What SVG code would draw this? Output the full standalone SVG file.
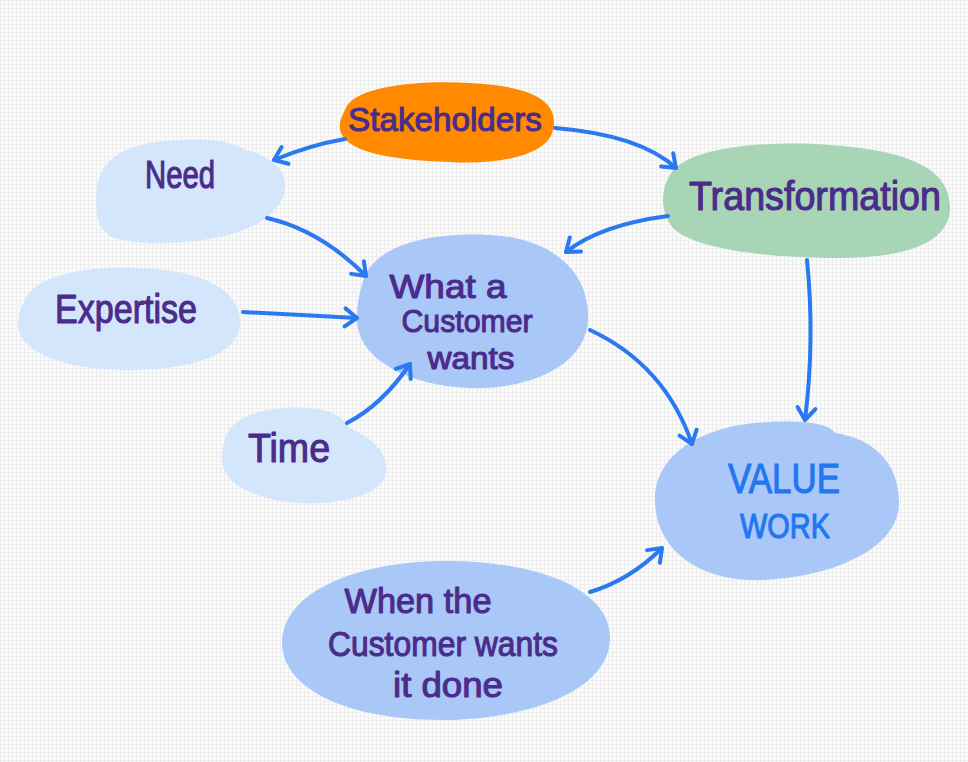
<svg xmlns="http://www.w3.org/2000/svg" width="968" height="762" viewBox="0 0 968 762">
<defs>
<pattern id="grid" width="4" height="4" patternUnits="userSpaceOnUse">
<rect width="4" height="4" fill="#fbfbfb"/>
<rect x="0" y="0" width="1" height="4" fill="#ececec"/>
<rect x="0" y="0" width="4" height="1" fill="#efefef"/>
</pattern>
<marker id="ah" markerUnits="userSpaceOnUse" markerWidth="30" markerHeight="30" viewBox="0 0 30 30" refX="16" refY="15" orient="auto">
<path d="M4,6 L16,15 L4,24" fill="none" stroke="#2a78f2" stroke-width="4" stroke-linecap="round" stroke-linejoin="round"/>
</marker>
<style>
.t{font-family:"Liberation Sans","DejaVu Sans",sans-serif;fill:#4b2c8a;stroke:#4b2c8a;stroke-width:1.1;stroke-linejoin:round;text-anchor:middle}
.v{font-family:"Liberation Sans","DejaVu Sans",sans-serif;fill:#2277f0;stroke:#2277f0;stroke-width:1.1;stroke-linejoin:round;text-anchor:middle}
.c{fill:none;stroke:#2a78f2;stroke-width:4;stroke-linecap:round;marker-end:url(#ah)}
</style>
</defs>
<rect width="968" height="762" fill="url(#grid)"/>
<g id="stakeholders">
<path d="M345,110 C352,86 420,80 470,83 C530,86 560,100 553,130 C548,155 500,165 450,162 C390,160 345,152 340,130 C339,122 342,116 345,110 Z" fill="#ff8a00"/>
<text class="t" x="445" y="131" font-size="34" textLength="194" lengthAdjust="spacingAndGlyphs">Stakeholders</text>
</g>
<g id="need">
<path d="M96,200 C96,170 110,150 150,143 C190,137 230,138 245,150 C270,155 287,170 285,188 C283,210 260,228 220,237 C180,245 130,246 110,236 C98,228 96,215 96,200 Z" fill="#d4e6fb"/>
<text class="t" x="180" y="188" font-size="38" textLength="70" lengthAdjust="spacingAndGlyphs">Need</text>
</g>
<g id="transformation">
<path d="M670,175 C685,148 760,140 830,145 C900,150 952,165 950,210 C948,245 900,258 840,258 C770,258 700,250 675,230 C660,215 660,190 670,175 Z" fill="#a8d5b5"/>
<text class="t" x="815" y="210" font-size="41" textLength="252" lengthAdjust="spacingAndGlyphs">Transformation</text>
</g>
<g id="what">
<path d="M362,285 C370,245 430,232 490,235 C550,238 590,270 588,320 C586,365 530,390 470,388 C410,386 358,360 357,320 C357,305 359,295 362,285 Z" fill="#a9c8f8"/>
<text class="t" x="448" y="298" font-size="34" textLength="117" lengthAdjust="spacingAndGlyphs">What a</text>
<text class="t" x="467" y="332" font-size="32" textLength="131" lengthAdjust="spacingAndGlyphs">Customer</text>
<text class="t" x="471" y="369" font-size="32" textLength="87" lengthAdjust="spacingAndGlyphs">wants</text>
</g>
<g id="expertise">
<path d="M25,300 C35,275 90,265 140,268 C200,270 243,290 240,325 C238,355 190,370 130,370 C70,370 20,355 18,325 C18,315 21,307 25,300 Z" fill="#d4e6fb"/>
<text class="t" x="126" y="323" font-size="40" textLength="142" lengthAdjust="spacingAndGlyphs">Expertise</text>
</g>
<g id="time">
<path d="M225,440 C230,415 270,405 310,408 C335,410 345,420 350,428 C372,438 388,452 386,472 C384,495 340,505 300,503 C260,501 222,485 222,460 C222,452 223,446 225,440 Z" fill="#d4e6fb"/>
<text class="t" x="289" y="462" font-size="40" textLength="82" lengthAdjust="spacingAndGlyphs">Time</text>
</g>
<g id="value">
<path d="M655,500 C655,455 700,425 770,422 C810,420 830,425 835,433 C870,438 900,460 899,505 C897,550 830,578 760,580 C700,582 655,550 655,500 Z" fill="#a9c8f8"/>
<text class="v" x="784" y="493" font-size="42" textLength="112" lengthAdjust="spacingAndGlyphs">VALUE</text>
<text class="v" x="785" y="538" font-size="35" textLength="90" lengthAdjust="spacingAndGlyphs">WORK</text>
</g>
<g id="when">
<path d="M282,640 C285,590 360,562 440,561 C540,560 612,590 610,640 C608,690 530,720 440,720 C350,720 280,690 282,640 Z" fill="#a9c8f8"/>
<text class="t" x="418" y="613" font-size="35" textLength="147" lengthAdjust="spacingAndGlyphs">When the</text>
<text class="t" x="443" y="656" font-size="35" textLength="230" lengthAdjust="spacingAndGlyphs">Customer wants</text>
<text class="t" x="448" y="697" font-size="35" textLength="110" lengthAdjust="spacingAndGlyphs">it done</text>
</g>
<g id="connectors">
<path class="c" d="M345,139 Q310,145 274,160"/>
<path class="c" d="M555,128 Q640,135 676,168"/>
<path class="c" d="M267,218 Q320,230 366,276"/>
<path class="c" d="M668,216 Q600,225 566,252"/>
<path class="c" d="M243,312 L357,318"/>
<path class="c" d="M347,423 Q382,405 410,364"/>
<path class="c" d="M590,330 Q665,365 692,444"/>
<path class="c" d="M807,260 Q815,340 805,420"/>
<path class="c" d="M590,592 Q630,580 662,548"/>
</g>
</svg>
